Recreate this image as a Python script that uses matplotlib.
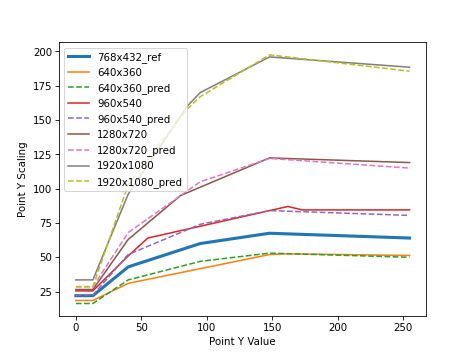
import matplotlib
matplotlib.use("Agg")
import matplotlib.pyplot as plt

ref_x = [0, 13, 40, 95, 148, 255]
ref_y = [22, 22, 43, 60, 67.5, 64]

r640_x = [0, 13, 40, 148, 160, 255]
r640_y = [18.5, 18.5, 31, 52, 52.5, 51.3]

p640_x = [0, 13, 40, 95, 148, 255]
p640_y = [16.3, 16.3, 33.5, 47, 53, 50]

r960_x = [0, 13, 40, 55, 162, 173, 255]
r960_y = [25.5, 25.5, 51, 64, 87, 84.5, 84.5]

p960_x = [0, 13, 40, 95, 148, 255]
p960_y = [22.5, 22.5, 52, 74, 84, 80.5]

r1280_x = [0, 13, 40, 80, 148, 255]
r1280_y = [26.5, 26.5, 63, 95, 122.4, 119]

p1280_x = [0, 13, 40, 95, 148, 255]
p1280_y = [28.5, 28.5, 68, 105, 122, 115]

r1920_x = [0, 13, 40, 85, 95, 148, 255]
r1920_y = [33.5, 33.5, 96, 160, 170, 196, 188.5]

p1920_x = [0, 13, 40, 85, 95, 148, 255]
p1920_y = [28.6, 28.6, 103, 158, 167, 197.5, 185.6]

fig, ax = plt.subplots(figsize=(6.4, 4.8), dpi=74)
ax.plot(ref_x, ref_y, color="tab:blue", lw=3, label="768x432_ref")
ax.plot(r640_x, r640_y, color="tab:orange", label="640x360")
ax.plot(p640_x, p640_y, color="tab:green", ls="--", label="640x360_pred")
ax.plot(r960_x, r960_y, color="tab:red", label="960x540")
ax.plot(p960_x, p960_y, color="tab:purple", ls="--", label="960x540_pred")
ax.plot(r1280_x, r1280_y, color="tab:brown", label="1280x720")
ax.plot(p1280_x, p1280_y, color="tab:pink", ls="--", label="1280x720_pred")
ax.plot(r1920_x, r1920_y, color="tab:gray", label="1920x1080")
ax.plot(p1920_x, p1920_y, color="tab:olive", ls="--", label="1920x1080_pred")
ax.set_xlabel("Point Y Value")
ax.set_ylabel("Point Y Scaling")
ax.legend(loc="upper left")
fig.savefig("out.png", dpi=74)
